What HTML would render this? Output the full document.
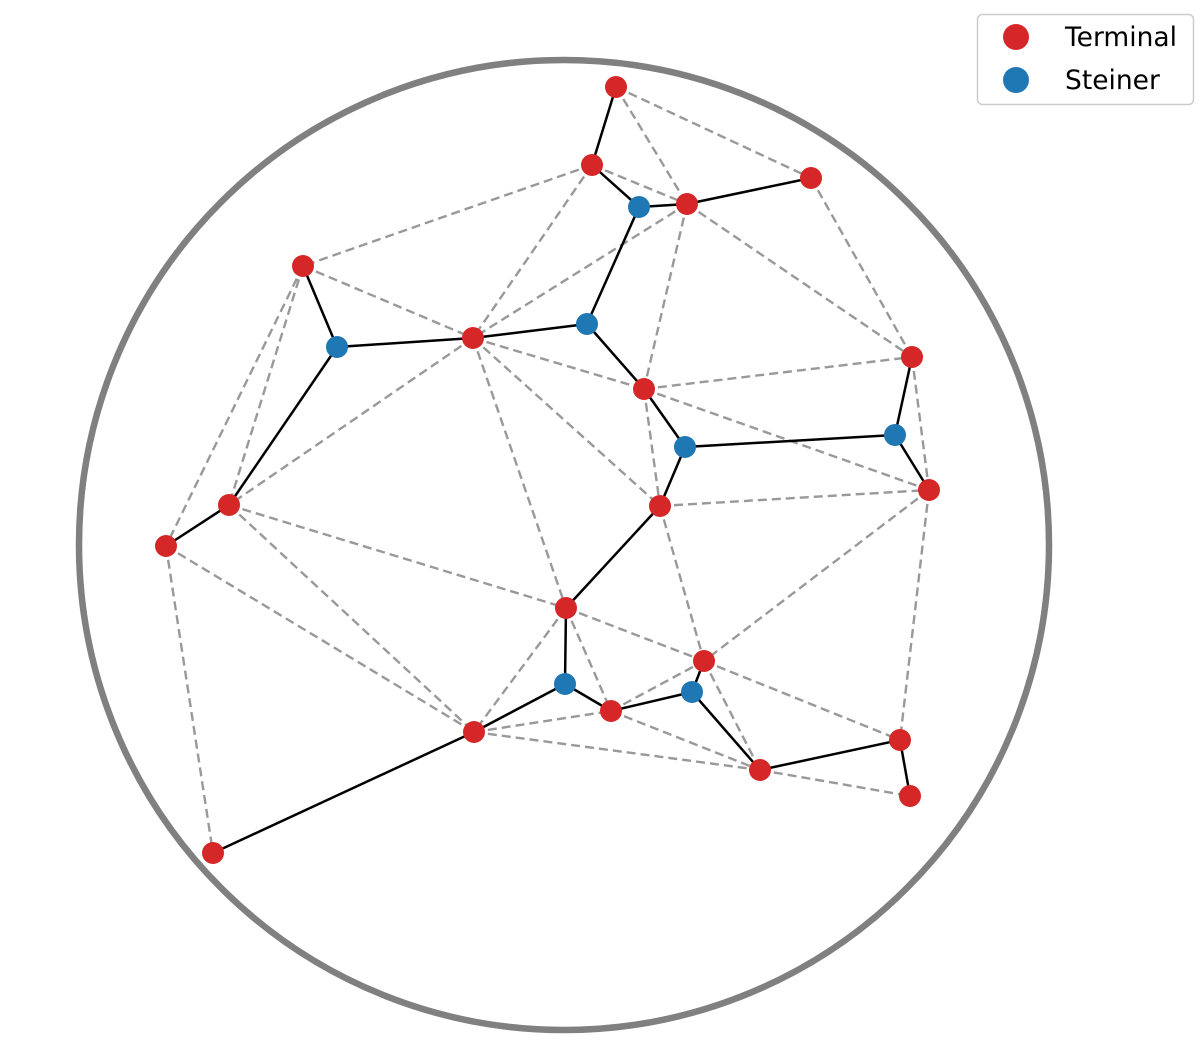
<!DOCTYPE html>
<html><head><meta charset="utf-8"><style>html,body{margin:0;padding:0;background:#fff;width:1200px;height:1043px;overflow:hidden}</style></head>
<body>
<svg width="1200" height="1043" viewBox="0 0 1200 1043" xmlns="http://www.w3.org/2000/svg">
<circle cx="564" cy="545" r="485" fill="none" stroke="#808080" stroke-width="6.5"/>
<g stroke="#999" stroke-width="2.4" stroke-dasharray="9,5" fill="none">
<line x1="616" y1="87" x2="687" y2="204"/>
<line x1="616" y1="87" x2="811" y2="178"/>
<line x1="592" y1="165" x2="303" y2="266"/>
<line x1="592" y1="165" x2="687" y2="204"/>
<line x1="592" y1="165" x2="473" y2="338"/>
<line x1="687" y1="204" x2="473" y2="338"/>
<line x1="687" y1="204" x2="644" y2="389"/>
<line x1="687" y1="204" x2="912" y2="357"/>
<line x1="811" y1="178" x2="912" y2="357"/>
<line x1="303" y1="266" x2="473" y2="338"/>
<line x1="303" y1="266" x2="229" y2="505"/>
<line x1="303" y1="266" x2="166" y2="546"/>
<line x1="473" y1="338" x2="229" y2="505"/>
<line x1="473" y1="338" x2="644" y2="389"/>
<line x1="473" y1="338" x2="660" y2="506"/>
<line x1="473" y1="338" x2="566" y2="608"/>
<line x1="644" y1="389" x2="912" y2="357"/>
<line x1="644" y1="389" x2="929" y2="490"/>
<line x1="644" y1="389" x2="660" y2="506"/>
<line x1="912" y1="357" x2="929" y2="490"/>
<line x1="660" y1="506" x2="929" y2="490"/>
<line x1="660" y1="506" x2="704" y2="661"/>
<line x1="929" y1="490" x2="704" y2="661"/>
<line x1="929" y1="490" x2="900" y2="740"/>
<line x1="229" y1="505" x2="566" y2="608"/>
<line x1="229" y1="505" x2="474" y2="732"/>
<line x1="166" y1="546" x2="474" y2="732"/>
<line x1="166" y1="546" x2="213" y2="853"/>
<line x1="566" y1="608" x2="704" y2="661"/>
<line x1="566" y1="608" x2="611" y2="711"/>
<line x1="566" y1="608" x2="474" y2="732"/>
<line x1="474" y1="732" x2="611" y2="711"/>
<line x1="474" y1="732" x2="760" y2="770"/>
<line x1="611" y1="711" x2="704" y2="661"/>
<line x1="611" y1="711" x2="760" y2="770"/>
<line x1="704" y1="661" x2="760" y2="770"/>
<line x1="704" y1="661" x2="900" y2="740"/>
<line x1="760" y1="770" x2="910" y2="796"/>
</g>
<g stroke="#000" stroke-width="2.5" fill="none">
<line x1="616" y1="87" x2="592" y2="165"/>
<line x1="592" y1="165" x2="639" y2="207"/>
<line x1="639" y1="207" x2="687" y2="204"/>
<line x1="687" y1="204" x2="811" y2="178"/>
<line x1="639" y1="207" x2="587" y2="324"/>
<line x1="587" y1="324" x2="473" y2="338"/>
<line x1="473" y1="338" x2="337" y2="347"/>
<line x1="337" y1="347" x2="303" y2="266"/>
<line x1="337" y1="347" x2="229" y2="505"/>
<line x1="229" y1="505" x2="166" y2="546"/>
<line x1="587" y1="324" x2="644" y2="389"/>
<line x1="644" y1="389" x2="685" y2="447"/>
<line x1="685" y1="447" x2="660" y2="506"/>
<line x1="685" y1="447" x2="895" y2="435"/>
<line x1="895" y1="435" x2="912" y2="357"/>
<line x1="895" y1="435" x2="929" y2="490"/>
<line x1="660" y1="506" x2="566" y2="608"/>
<line x1="566" y1="608" x2="565" y2="684"/>
<line x1="565" y1="684" x2="474" y2="732"/>
<line x1="565" y1="684" x2="611" y2="711"/>
<line x1="611" y1="711" x2="692" y2="692"/>
<line x1="692" y1="692" x2="704" y2="661"/>
<line x1="692" y1="692" x2="760" y2="770"/>
<line x1="760" y1="770" x2="900" y2="740"/>
<line x1="900" y1="740" x2="910" y2="796"/>
<line x1="474" y1="732" x2="213" y2="853"/>
</g>
<g fill="#d62728">
<circle cx="616" cy="87" r="11"/><circle cx="592" cy="165" r="11"/><circle cx="687" cy="204" r="11"/>
<circle cx="811" cy="178" r="11"/><circle cx="303" cy="266" r="11"/><circle cx="473" cy="338" r="11"/>
<circle cx="644" cy="389" r="11"/><circle cx="912" cy="357" r="11"/><circle cx="929" cy="490" r="11"/>
<circle cx="660" cy="506" r="11"/><circle cx="229" cy="505" r="11"/><circle cx="166" cy="546" r="11"/>
<circle cx="566" cy="608" r="11"/><circle cx="704" cy="661" r="11"/><circle cx="611" cy="711" r="11"/>
<circle cx="474" cy="732" r="11"/><circle cx="760" cy="770" r="11"/><circle cx="900" cy="740" r="11"/>
<circle cx="910" cy="796" r="11"/><circle cx="213" cy="853" r="11"/>
</g>
<g fill="#1f77b4">
<circle cx="639" cy="207" r="11"/><circle cx="587" cy="324" r="11"/><circle cx="337" cy="347" r="11"/>
<circle cx="685" cy="447" r="11"/><circle cx="895" cy="435" r="11"/><circle cx="565" cy="684" r="11"/>
<circle cx="692" cy="692" r="11"/>
</g>
<rect x="977.5" y="14.5" width="216" height="90" rx="5" fill="#fff" stroke="#ccc" stroke-width="1.5"/>
<circle cx="1016" cy="37" r="13" fill="#d62728"/>
<circle cx="1016" cy="80" r="13" fill="#1f77b4"/>
<text x="1065" y="46" font-family="DejaVu Sans, Liberation Sans, sans-serif" font-size="26.5" fill="#000">Terminal</text>
<text x="1065" y="89" font-family="DejaVu Sans, Liberation Sans, sans-serif" font-size="26.5" fill="#000">Steiner</text>
</svg>
</body></html>
